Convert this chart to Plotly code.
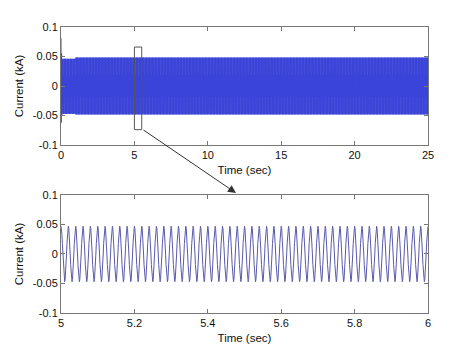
import numpy as np
import plotly.graph_objects as go

# ---- data ----
FREQ_HZ = 50                      # ~50 cycles per second in the zoomed panel
# one cycle of the waveform, normalised (starts at the positive peak)
CYCLE_SHAPE = [1.0, 0.92, 0.71, 0.38, 0.0, -0.38, -0.71, -0.92,
               -1.0, -0.92, -0.71, -0.38, 0.0, 0.38, 0.71, 0.92]
# positive / negative peak amplitude (kA) for each second, 0..25 s
ENV_POS = [0.046, 0.048, 0.048, 0.048, 0.048, 0.048, 0.048, 0.048, 0.048, 0.048,
           0.048, 0.048, 0.048, 0.048, 0.048, 0.048, 0.048, 0.048, 0.048, 0.048,
           0.048, 0.048, 0.048, 0.048, 0.048]
ENV_NEG = [0.047, 0.048, 0.048, 0.048, 0.048, 0.048, 0.048, 0.048, 0.048, 0.048,
           0.048, 0.048, 0.048, 0.048, 0.048, 0.048, 0.048, 0.048, 0.048, 0.048,
           0.048, 0.048, 0.048, 0.048, 0.048]
# start-up transient: peak values of the first cycles (pos, neg)
TRANSIENT_POS = [0.081, 0.060, 0.052]
TRANSIENT_NEG = [0.062, 0.055, 0.050]
# zoomed panel amplitude (kA)
ZOOM_AMP_POS = 0.047
ZOOM_AMP_NEG = 0.047
ZOOM_START, ZOOM_END = 5.0, 6.0

TOP_XTICKS = [0, 5, 10, 15, 20, 25]
BOT_XTICKS = [5, 5.2, 5.4, 5.6, 5.8, 6]
BOT_XLABELS = ["5", "5.2", "5.4", "5.6", "5.8", "6"]
YTICKS = [-0.1, -0.05, 0, 0.05, 0.1]
YLABELS = ["-0.1", "-0.05", "0", "0.05", "0.1"]

shape = np.array(CYCLE_SHAPE)
n = len(shape)
pos_mask = shape > 0

# ---- top: full record ----
t_list, y_list = [], []
ncyc = FREQ_HZ * len(ENV_POS)
for k in range(ncyc):
    sec = k // FREQ_HZ
    ap, an = ENV_POS[sec], ENV_NEG[sec]
    if k < len(TRANSIENT_POS):
        ap, an = TRANSIENT_POS[k], TRANSIENT_NEG[k]
    vals = np.where(pos_mask, shape * ap, shape * an)
    t_list.append((k * n + np.arange(n)) / (n * FREQ_HZ))
    y_list.append(vals)
t_top = np.concatenate(t_list)
y_top = np.concatenate(y_list)

# ---- bottom: zoom 5..6 s ----
nz = int(round((ZOOM_END - ZOOM_START) * FREQ_HZ))
zs = np.tile(shape, nz)
y_bot = np.concatenate([np.where(zs > 0, zs * ZOOM_AMP_POS, zs * ZOOM_AMP_NEG), [ZOOM_AMP_POS]])
t_bot = ZOOM_START + np.arange(len(y_bot)) / (n * FREQ_HZ)

fig = go.Figure()
fig.add_trace(go.Scatter(x=t_top, y=y_top, mode="lines", xaxis="x", yaxis="y",
                         line=dict(color="#3a44d8", width=1), showlegend=False,
                         hoverinfo="skip"))
fig.add_trace(go.Scatter(x=t_bot, y=y_bot, mode="lines", xaxis="x2", yaxis="y2",
                         line=dict(color="#5a5aac", width=1), showlegend=False,
                         hoverinfo="skip"))

FONT = dict(family="Liberation Sans, Arial, sans-serif", size=11, color="#111")
TFONT = dict(family="Liberation Sans, Arial, sans-serif", size=11.5, color="#111")
axcommon = dict(showline=True, linecolor="#777", linewidth=1, mirror="ticks",
                ticks="inside", ticklen=4, tickcolor="#777", showgrid=False,
                zeroline=False, tickfont=FONT, automargin=False)

# page body has an 8px margin, so the figure is placed 8px in from the window edge
fig.update_layout(
    width=466, height=348,
    margin=dict(l=53, r=46, t=19, b=43),
    paper_bgcolor="white", plot_bgcolor="white",
    font=FONT,
    xaxis=dict(domain=[0, 1], anchor="y", range=[0, 25], tickvals=TOP_XTICKS,
               title=dict(text="Time (sec)", font=TFONT, standoff=5), **axcommon),
    yaxis=dict(domain=[0.5874, 1], anchor="x", range=[-0.1, 0.1], tickvals=YTICKS,
               ticktext=YLABELS,
               title=dict(text="Current (kA)", font=TFONT, standoff=6), **axcommon),
    xaxis2=dict(domain=[0, 1], anchor="y2", range=[5, 6], tickvals=BOT_XTICKS,
                ticktext=BOT_XLABELS,
                title=dict(text="Time (sec)", font=TFONT, standoff=5), **axcommon),
    yaxis2=dict(domain=[0, 0.4126], anchor="x2", range=[-0.1, 0.1], tickvals=YTICKS,
                ticktext=YLABELS,
                title=dict(text="Current (kA)", font=TFONT, standoff=6), **axcommon),
)

# zoom rectangle on top panel
fig.add_shape(type="rect", xref="x", yref="y", x0=5, x1=5.5, y0=-0.074, y1=0.066,
              line=dict(color="#555", width=1), fillcolor="rgba(0,0,0,0)")
# arrow from rectangle to lower panel
fig.add_annotation(xref="paper", yref="paper", x=0.4768, y=0.4196,
                   ax=-94, ay=-64, axref="pixel", ayref="pixel", text="",
                   showarrow=True, arrowhead=2, arrowsize=1.6, arrowwidth=1,
                   arrowcolor="#333")

fig.write_html("out.html")
